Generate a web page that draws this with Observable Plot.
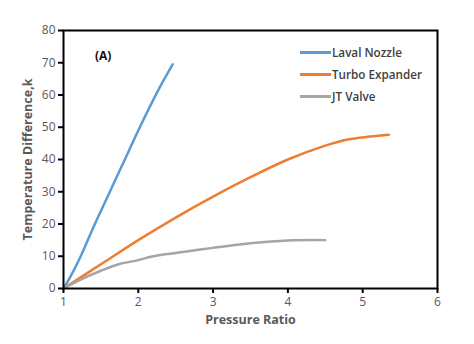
<!DOCTYPE html>
<html><head><meta charset="utf-8">
<script src="https://cdn.jsdelivr.net/npm/d3@7"></script>
<script src="https://cdn.jsdelivr.net/npm/@observablehq/plot@0.6"></script>
<style>
body{margin:0;background:#fff;}
#wrap{position:relative;width:474px;height:344px;font-family:"Open Sans",sans-serif;}
#legend{position:absolute;left:300px;top:41px;font-size:11.7px;font-weight:600;color:#404040;}
#legend div{display:flex;align-items:center;height:22px;}
#legend span.l{display:inline-block;width:31px;height:3px;margin-right:1px;}
#tag{position:absolute;left:95px;top:47px;font-size:12px;font-weight:700;color:#111;}
</style></head>
<body><div id="wrap"><div id="chart"></div><div id="tag">(A)</div><div id="legend"></div></div>
<script>
const seriesNames = ["Laval Nozzle", "Turbo Expander", "JT Valve"];
const colors = ["#5b9bd5", "#ed7d31", "#a5a5a5"];
const lavalX = [1, 1.1, 1.23, 1.4, 1.6, 1.8, 2.0, 2.2, 2.33, 2.46];
const lavalY = [0, 4, 10, 19, 29, 39, 49, 58.5, 64.2, 69.5];
const turboX = [1, 1.5, 2, 2.5, 3, 3.5, 4, 4.5, 4.8, 5.1, 5.35];
const turboY = [0, 7.5, 15, 22, 28.5, 34.5, 40, 44.3, 46.2, 47.1, 47.7];
const jtX = [1, 1.25, 1.5, 1.75, 2, 2.2, 2.5, 3, 3.5, 4, 4.5];
const jtY = [0, 3, 5.5, 7.6, 8.8, 10, 11, 12.6, 14, 14.9, 15];
const xTicks = [1, 2, 3, 4, 5, 6];
const yTicks = [0, 10, 20, 30, 40, 50, 60, 70, 80];

const data = [
  ...lavalX.map((x, i) => ({s: seriesNames[0], x, y: lavalY[i]})),
  ...turboX.map((x, i) => ({s: seriesNames[1], x, y: turboY[i]})),
  ...jtX.map((x, i) => ({s: seriesNames[2], x, y: jtY[i]}))
];

const chart = Plot.plot({
  width: 474, height: 344,
  marginLeft: 63, marginRight: 37, marginTop: 30, marginBottom: 56,
  style: {fontFamily: "Open Sans, sans-serif", fontSize: "12px", color: "#595959", background: "#fff"},
  x: {domain: [1, 6], label: null},
  y: {domain: [0, 80], label: null},
  color: {domain: seriesNames, range: colors},
  marks: [
    Plot.line(data, {x: "x", y: "y", z: "s", stroke: "s", strokeWidth: 2.5, curve: "catmull-rom"}),
    Plot.frame({stroke: "#000", strokeWidth: 2}),
    Plot.axisX({ticks: xTicks, tickFormat: "d", tickSize: 5, tickPadding: 4, stroke: "#000", strokeWidth: 2, color: "#595959", label: null}),
    Plot.axisY({ticks: yTicks, tickFormat: "d", tickSize: 5, tickPadding: 3, stroke: "#000", strokeWidth: 2, color: "#595959", label: null}),
    Plot.text(["Pressure Ratio"], {frameAnchor: "bottom", dy: 35, fontWeight: "bold", fontSize: 12.5, fill: "#595959"}),
    Plot.text(["Temperature Difference,k"], {frameAnchor: "left", textAnchor: "middle", dx: -36, rotate: -90, fontWeight: "bold", fontSize: 12.5, fill: "#595959"})
  ]
});
document.getElementById("chart").appendChild(chart);
const lg = document.getElementById("legend");
seriesNames.forEach((n, i) => {
  const d = document.createElement("div");
  d.innerHTML = `<span class="l" style="background:${colors[i]}"></span>${n}`;
  lg.appendChild(d);
});
</script></body></html>
